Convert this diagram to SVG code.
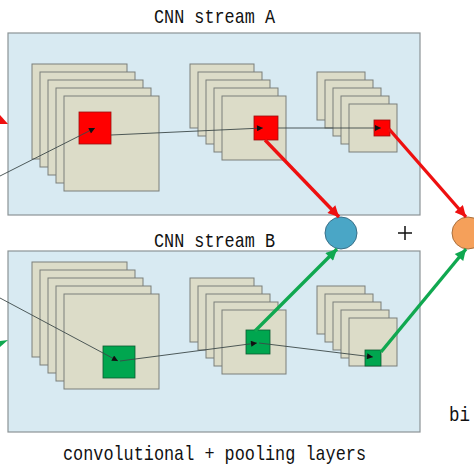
<svg xmlns="http://www.w3.org/2000/svg" width="474" height="474" viewBox="0 0 474 474">
<defs>
<style>
.panel{fill:#d8eaf2;stroke:#8c9396;stroke-width:1.2}
.sq{fill:#dcdcc8;stroke:#7a7f7a;stroke-width:1}
.red{fill:#ff0000;stroke:#9a1010;stroke-width:0.8}
.grn{fill:#00a64f;stroke:#0c5a30;stroke-width:0.8}
.thin{fill:none;stroke:#3c4848;stroke-width:0.9;marker-end:url(#ah)}
.tr{fill:none;stroke:#ee1010;stroke-width:3.4;marker-end:url(#ahr)}
.tg{fill:none;stroke:#10a850;stroke-width:3.4;marker-end:url(#ahg)}
.t{font-family:"Liberation Mono","DejaVu Sans Mono",monospace;font-size:21px;fill:#111}
</style>
<marker id="ah" viewBox="0 0 10 10" refX="10" refY="5" markerWidth="9" markerHeight="6" markerUnits="userSpaceOnUse" orient="auto"><path d="M0,0 L10,5 L0,10 z" fill="#111"/></marker>
<marker id="ahr" viewBox="0 0 10 10" refX="10" refY="5" markerWidth="13" markerHeight="11" markerUnits="userSpaceOnUse" orient="auto"><path d="M0,0 L10,5 L0,10 z" fill="#ee1010"/></marker>
<marker id="ahg" viewBox="0 0 10 10" refX="10" refY="5" markerWidth="13" markerHeight="11" markerUnits="userSpaceOnUse" orient="auto"><path d="M0,0 L10,5 L0,10 z" fill="#10a850"/></marker>
</defs>
<rect width="474" height="474" fill="#ffffff"/>

<g id="streamA">
<rect class="panel" x="8" y="33" width="412" height="182"/>
<text class="t" x="154" y="23" textLength="121" lengthAdjust="spacingAndGlyphs">CNN stream A</text>
<g id="A1">
<rect class="sq" x="32" y="64" width="95" height="95"/>
<rect class="sq" x="40" y="72" width="95" height="95"/>
<rect class="sq" x="48" y="80" width="95" height="95"/>
<rect class="sq" x="56" y="88" width="95" height="95"/>
<rect class="sq" x="64" y="96" width="95" height="95"/>
<rect class="red" x="79" y="112" width="32" height="32"/>
</g>
<g id="A2">
<rect class="sq" x="190" y="64" width="64" height="64"/>
<rect class="sq" x="198" y="72" width="64" height="64"/>
<rect class="sq" x="206" y="80" width="64" height="64"/>
<rect class="sq" x="214" y="88" width="64" height="64"/>
<rect class="sq" x="222" y="96" width="64" height="64"/>
<rect class="red" x="254" y="116" width="24" height="24"/>
</g>
<g id="A3">
<rect class="sq" x="317" y="72" width="48" height="48"/>
<rect class="sq" x="325" y="80" width="48" height="48"/>
<rect class="sq" x="333" y="88" width="48" height="48"/>
<rect class="sq" x="341" y="96" width="48" height="48"/>
<rect class="sq" x="349" y="104" width="48" height="48"/>
<rect class="red" x="374" y="120" width="16" height="16"/>
</g>
</g>

<g id="streamB">
<rect class="panel" x="8" y="251" width="412" height="181"/>
<text class="t" x="154" y="247" textLength="121" lengthAdjust="spacingAndGlyphs">CNN stream B</text>
<g id="B1">
<rect class="sq" x="32" y="262" width="95" height="95"/>
<rect class="sq" x="40" y="270" width="95" height="95"/>
<rect class="sq" x="48" y="278" width="95" height="95"/>
<rect class="sq" x="56" y="286" width="95" height="95"/>
<rect class="sq" x="64" y="294" width="95" height="95"/>
<rect class="grn" x="103" y="346" width="32" height="32"/>
</g>
<g id="B2">
<rect class="sq" x="190" y="278" width="64" height="64"/>
<rect class="sq" x="198" y="286" width="64" height="64"/>
<rect class="sq" x="206" y="294" width="64" height="64"/>
<rect class="sq" x="214" y="302" width="64" height="64"/>
<rect class="sq" x="222" y="310" width="64" height="64"/>
<rect class="grn" x="246" y="330" width="24" height="24"/>
</g>
<g id="B3">
<rect class="sq" x="317" y="286" width="48" height="48"/>
<rect class="sq" x="325" y="294" width="48" height="48"/>
<rect class="sq" x="333" y="302" width="48" height="48"/>
<rect class="sq" x="341" y="310" width="48" height="48"/>
<rect class="sq" x="349" y="318" width="48" height="48"/>
<rect class="grn" x="365" y="350" width="16" height="16"/>
</g>
</g>

<g id="fusionA">
<circle cx="341" cy="233" r="16" fill="#4aa6c6" stroke="#3a7088" stroke-width="1"/>
</g>
<g id="plus">
<path d="M398,233 H412 M405,226 V240" stroke="#111" stroke-width="1.5" fill="none"/>
</g>
<g id="fusionB">
<circle cx="468" cy="233" r="16" fill="#f5a05a" stroke="#a8703e" stroke-width="1"/>
</g>

<g id="connectors">
<polygon points="0,115 8,124 0,124" fill="#ee1010"/>
<polygon points="0,341 8,340 0,347" fill="#10a850"/>
<path class="thin" d="M0,176 L95,128"/>
<path class="thin" d="M111,135 L263,128"/>
<path class="thin" d="M278,128 L381,128"/>
<path class="thin" d="M0,298 L118,361"/>
<path class="thin" d="M120,361 L257,343"/>
<path class="thin" d="M259,343 L373,357"/>
<path class="tr" d="M265,140 L339,217"/>
<path class="tr" d="M389,129 L466,217"/>
<path class="tg" d="M255,331 L337,249"/>
<path class="tg" d="M381,352 L466,249"/>
</g>

<text class="t" x="63" y="460" textLength="303" lengthAdjust="spacingAndGlyphs">convolutional + pooling layers</text>
<text class="t" x="449" y="421" textLength="21" lengthAdjust="spacingAndGlyphs">bi</text>
</svg>
